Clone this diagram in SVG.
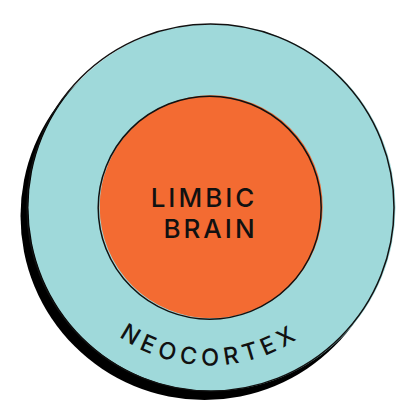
<svg xmlns="http://www.w3.org/2000/svg" width="416" height="415" viewBox="0 0 416 415">
  <style>
    .lbl { font-family: Inter, "Liberation Sans", sans-serif; font-weight: 500; fill: #111; }
    .ring { fill: none; stroke: #111; stroke-width: 1.5; }
  </style>
  <defs>
    <path id="arc" d="M 52.5 208 A 157.5 157.5 0 0 0 367.5 208"/>
  </defs>
  <rect width="416" height="415" fill="#ffffff"/>
  <g id="neocortex">
    <circle cx="204.5" cy="216" r="184" fill="#000"/>
    <circle cx="212" cy="207.5" r="183.5" fill="#9fd9da"/>
    <circle class="ring" cx="210.5" cy="207.5" r="183.5"/>
    <text class="lbl" font-size="23.5" letter-spacing="5.3">
      <textPath href="#arc" startOffset="50%" text-anchor="middle">NEOCORTEX</textPath>
    </text>
  </g>
  <g id="limbic-brain">
    <circle cx="211.2" cy="206.8" r="111.5" fill="#f36b32"/>
    <circle class="ring" cx="209.7" cy="207.7" r="111.5" stroke-width="1.2"/>
    <text class="lbl" font-size="26" letter-spacing="3" text-anchor="middle">
      <tspan x="209" y="207">LIMBIC</tspan>
      <tspan x="210.5" y="238">BRAIN</tspan>
    </text>
  </g>
</svg>
